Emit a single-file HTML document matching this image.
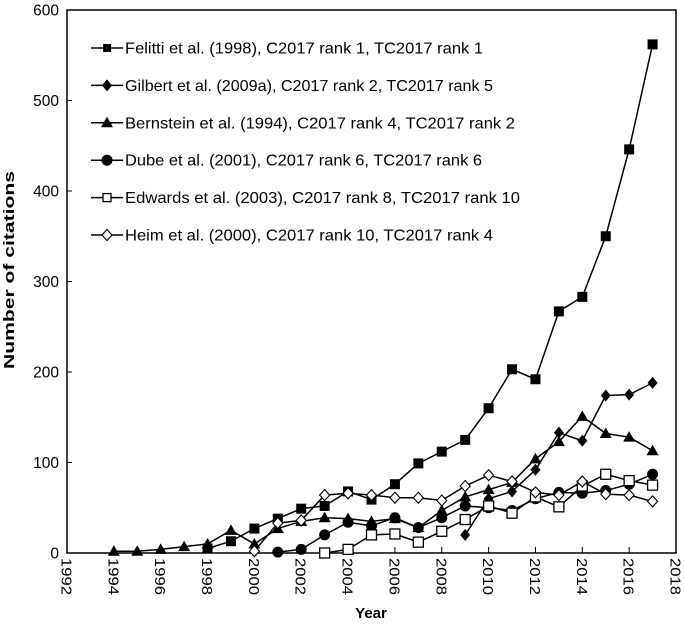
<!DOCTYPE html>
<html><head><meta charset="utf-8"><style>
body{margin:0;background:#fff;}
svg text{font-family:"Liberation Sans",Arial,sans-serif;}
</style></head><body>
<svg id="chart" width="685" height="625" xmlns="http://www.w3.org/2000/svg"></svg>
<script>
const felittiYears = [1998,1999,2000,2001,2002,2003,2004,2005,2006,2007,2008,2009,2010,2011,2012,2013,2014,2015,2016,2017];
const felittiVals = [5,13,27,38,49,52,68,59,76,99,112,125,160,203,192,267,283,350,446,562];
const gilbertYears = [2009,2010,2011,2012,2013,2014,2015,2016,2017];
const gilbertVals = [20,60,68,92,133,124,174,175,188];
const bernsteinYears = [1994,1995,1996,1997,1998,1999,2000,2001,2002,2003,2004,2005,2006,2007,2008,2009,2010,2011,2012,2013,2014,2015,2016,2017];
const bernsteinVals = [2,2,4,7,10,25,10,27,35,39,38,35,38,28,47,62,70,78,104,123,151,132,128,113];
const dubeYears = [2001,2002,2003,2004,2005,2006,2007,2008,2009,2010,2011,2012,2013,2014,2015,2016,2017];
const dubeVals = [1,4,20,34,30,39,28,39,52,50,47,60,67,66,69,76,87];
const edwardsYears = [2003,2004,2005,2006,2007,2008,2009,2010,2011,2012,2013,2014,2015,2016,2017];
const edwardsVals = [0,4,20,21,12,24,37,52,44,62,51,74,87,80,75];
const heimYears = [2000,2001,2002,2003,2004,2005,2006,2007,2008,2009,2010,2011,2012,2013,2014,2015,2016,2017];
const heimVals = [2,33,36,64,66,64,61,61,58,74,86,79,67,64,79,65,64,57];
const xTicks = [1992,1994,1996,1998,2000,2002,2004,2006,2008,2010,2012,2014,2016,2018];
const yTicks = [0,100,200,300,400,500,600];
const seriesNames = ["Felitti et al. (1998), C2017 rank 1, TC2017 rank 1","Gilbert et al. (2009a), C2017 rank 2, TC2017 rank 5","Bernstein et al. (1994), C2017 rank 4, TC2017 rank 2","Dube et al. (2001), C2017 rank 6, TC2017 rank 6","Edwards et al. (2003), C2017 rank 8, TC2017 rank 10","Heim et al. (2000), C2017 rank 10, TC2017 rank 4"];

const NS="http://www.w3.org/2000/svg";
const svg=document.getElementById('chart');
const L=67,R=676,T=10,B=553;
const xS=v=>L+(v-1992)/(2018-1992)*(R-L);
const yS=v=>B-v/600*(B-T);
function mk(tag,attrs,parent){const e=document.createElementNS(NS,tag);for(const k in attrs)e.setAttribute(k,attrs[k]);(parent||svg).appendChild(e);return e;}

const frame=mk('rect',{x:L,y:T,width:R-L,height:B-T,fill:'none',stroke:'#000','stroke-width':1.5});



xTicks.forEach(t=>{
  const x=xS(t);
  const tk=mk('line',{x1:x,y1:B,x2:x,y2:B-6,stroke:'#000','stroke-width':1});
  
  
  const tx=mk('text',{x:0,y:0,'font-size':15,textLength:37,lengthAdjust:'spacingAndGlyphs',transform:`translate(${x-5.5},${B+5}) rotate(90)`});
  tx.textContent=t;
  
  
});
yTicks.forEach(t=>{
  const y=yS(t);
  const tk=mk('line',{x1:L,y1:y,x2:L+5,y2:y,stroke:'#000','stroke-width':1});
  
  
  const tx=mk('text',{x:L-8,y:y+5.5,'font-size':15.5,'text-anchor':'end'});
  tx.textContent=t;
  
  
});
const xt=mk('text',{x:371,y:618,'font-size':15,'font-weight':'bold','text-anchor':'middle'});
xt.textContent='Year';


const yt=mk('text',{x:0,y:0,'font-size':15,'font-weight':'bold','text-anchor':'middle',textLength:198,lengthAdjust:'spacingAndGlyphs',transform:'translate(14,270) rotate(-90)'});
yt.textContent='Number of citations';



function marker(type,x,y,g){
  if(type==='sq')return mk('rect',{x:x-5,y:y-5,width:10,height:10,fill:'#000'},g);
  if(type==='osq')return mk('rect',{x:x-5,y:y-5,width:10,height:10,fill:'#fff',stroke:'#000','stroke-width':1.3},g);
  if(type==='dia')return mk('path',{d:`M${x} ${y-6}L${x+5} ${y}L${x} ${y+6}L${x-5} ${y}Z`,fill:'#000'},g);
  if(type==='odia')return mk('path',{d:`M${x} ${y-5.5}L${x+5} ${y}L${x} ${y+5.5}L${x-5} ${y}Z`,fill:'#fff',stroke:'#000','stroke-width':1.1},g);
  if(type==='tri')return mk('path',{d:`M${x} ${y-6}L${x+6} ${y+4.5}L${x-6} ${y+4.5}Z`,fill:'#000'},g);
  if(type==='cir')return mk('circle',{cx:x,cy:y,r:5.5,fill:'#000'},g);
}
const series=[
  [felittiYears,felittiVals,'sq','series-felitti'],
  [gilbertYears,gilbertVals,'dia','series-gilbert'],
  [bernsteinYears,bernsteinVals,'tri','series-bernstein'],
  [dubeYears,dubeVals,'cir','series-dube'],
  [edwardsYears,edwardsVals,'osq','series-edwards'],
  [heimYears,heimVals,'odia','series-heim']
];
series.forEach(([xs,vs,m,name])=>{
  const g=mk('g',{});
  
  
  const pts=xs.map((yr,i)=>xS(yr)+','+yS(vs[i])).join(' ');
  const pl=mk('polyline',{points:pts,fill:'none',stroke:'#000','stroke-width':1.5},g);
  
  
  xs.forEach((yr,i)=>{
    const mm=marker(m,xS(yr),yS(vs[i]),g);
    
    
  });
});
const types=['sq','dia','tri','cir','osq','odia'];
const legendLens=[358,368,390,357,395,368];
const lg=mk('g',{});


seriesNames.forEach((n,i)=>{
  const y=48+i*37.4;
  const g=mk('g',{},lg);
  
  
  mk('line',{x1:91,y1:y,x2:123,y2:y,stroke:'#000','stroke-width':1.5},g);
  const s=types[i];
  const mm=marker(s,107,y,g);
  if(s==='sq'||s==='osq'){mm.setAttribute('x',103);mm.setAttribute('y',y-4);mm.setAttribute('width',8);mm.setAttribute('height',8);}
  const t=mk('text',{x:125,y:y+5.5,'font-size':16,textLength:legendLens[i],lengthAdjust:'spacingAndGlyphs'},g);
  t.textContent=n;
});
</script>
</body></html>
